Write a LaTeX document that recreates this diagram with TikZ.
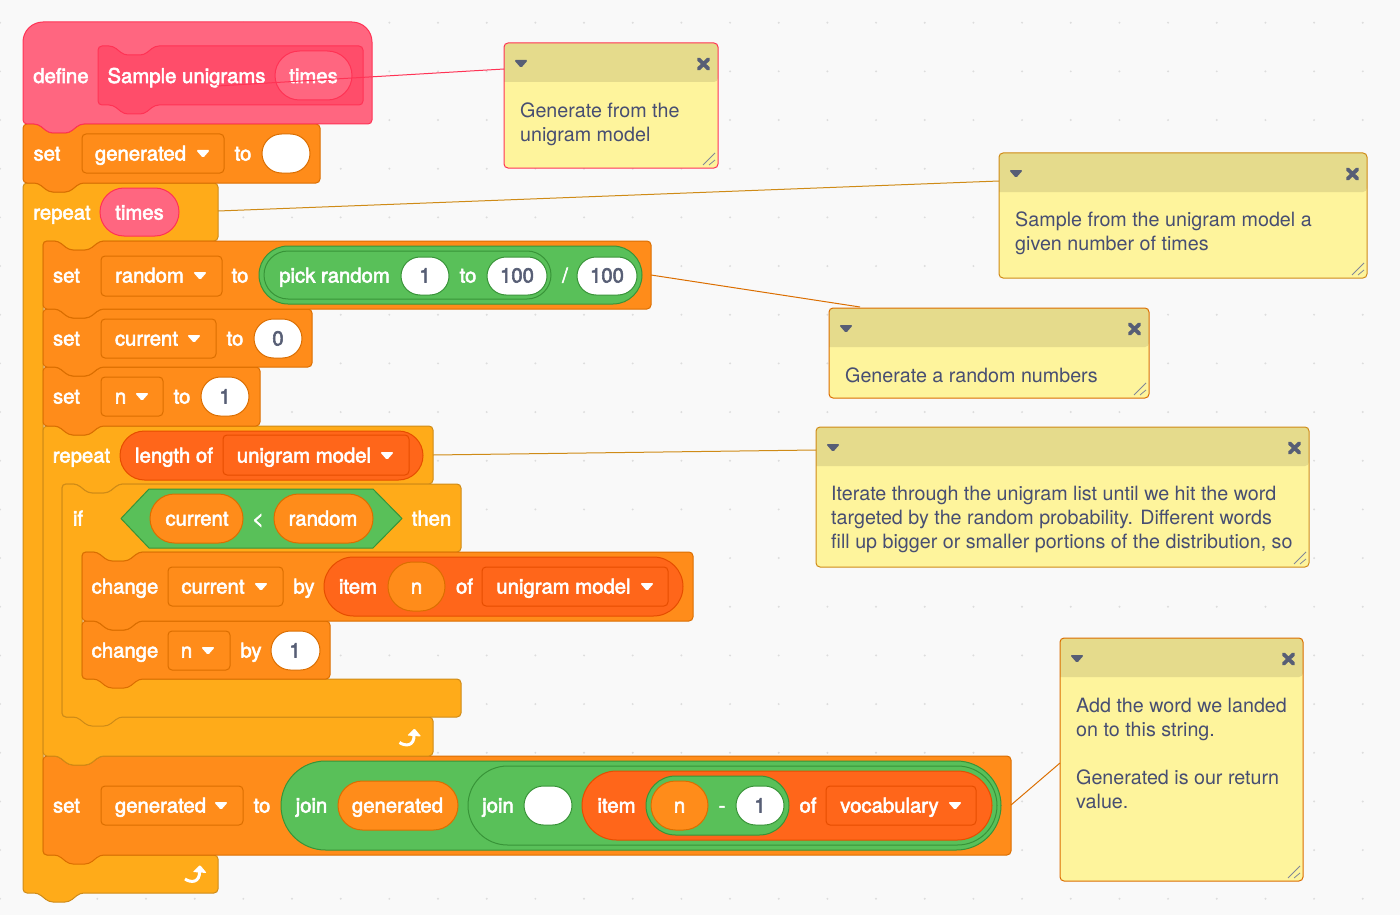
\documentclass[tikz,border=0pt]{standalone}
\usepackage{fontspec}
\setmainfont{TeX Gyre Heros}
\newfontfamily\blkfont{TeX Gyre Heros}
\newcommand{\whb}[1]{\special{pdf:code q 2 Tr 0.55 w 1 1 1 RG}#1\special{pdf:code Q}}
\newcommand{\inkb}[1]{\special{pdf:code q 2 Tr 0.55 w 0.341 0.369 0.459 RG}#1\special{pdf:code Q}}
\definecolor{ctrlF}{HTML}{FFAB19}\definecolor{ctrlS}{HTML}{CF8B17}
\definecolor{varF}{HTML}{FF8C1A}\definecolor{varS}{HTML}{DB6E00}
\definecolor{listF}{HTML}{FF661A}\definecolor{listS}{HTML}{E64D00}
\definecolor{opF}{HTML}{59C059}\definecolor{opS}{HTML}{389438}
\definecolor{myF}{HTML}{FF6680}\definecolor{myS}{HTML}{FF3355}\definecolor{myD}{HTML}{FF4D6A}
\definecolor{noteB}{HTML}{FEF49C}\definecolor{noteH}{HTML}{E5DB8C}\definecolor{ink}{HTML}{575E75}
\definecolor{noteT}{HTML}{474E72}
\definecolor{bgc}{HTML}{F9F9F9}\definecolor{dotc}{HTML}{DDDDDD}
\newcounter{lblc}
\tikzset{
 ctrl/.style={fill=ctrlF,draw=ctrlS,line width=1pt,line join=round},
 vari/.style={fill=varF,draw=varS,line width=1pt,line join=round},
 listb/.style={fill=listF,draw=listS,line width=1pt,line join=round},
 oper/.style={fill=opF,draw=opS,line width=1pt,line join=round},
 myb/.style={fill=myF,draw=myS,line width=1pt,line join=round},
 mybd/.style={fill=myD,draw=myS,line width=1pt,line join=round},
 whitep/.style={fill=white,draw=varS,line width=1pt},
 whiteo/.style={fill=white,draw=opS,line width=1pt},
 lbltext/.style={inner sep=0pt,anchor=base,text=white,font=\blkfont\fontsize{20.3}{24}\selectfont},
 numtext/.style={inner sep=0pt,anchor=base,text=ink,font=\blkfont\fontsize{20.3}{24}\selectfont},
 notetext/.style={inner sep=0pt,anchor=north west,align=left,text=noteT,font=\fontsize{19.7}{24}\selectfont},
 link/.style={line width=1pt},
}
\def\topn#1#2{-- (#1+15,#2) -- (#1+26,#2+9) -- (#1+46,#2+9) -- (#1+57,#2)}
\def\botn#1#2{-- (#1+57,#2) -- (#1+46,#2+9) -- (#1+26,#2+9) -- (#1+15,#2)}
\newcommand{\stk}[5]{\draw[#1,rounded corners=4pt] (#2,#3) \topn{#2}{#3} -- (#4,#3) -- (#4,#5) \botn{#2}{#5} -- (#2,#5) -- cycle;}
\newcommand{\cblk}[9]{\draw[#1,rounded corners=4pt] (#2,#3) \topn{#2}{#3} -- (#4,#3) -- (#4,#5) \botn{#6}{#5} -- (#6,#5) -- (#6,#7) -- (#8,#7) -- (#8,#9) \botn{#2}{#9} -- (#2,#9) -- cycle;}
\newcommand{\pil}[5]{\pgfmathsetmacro{\rr}{(#5-#4)/2}\draw[#1,rounded corners=\rr pt] (#2,#4) rectangle (#3,#5);}
\newcommand{\drp}[5]{\draw[#1,rounded corners=4pt] (#2,#4) rectangle (#3,#5);}
\newcommand{\tri}[2]{\fill[white,rounded corners=1.5pt] (#1-7,#2-3.5) -- (#1+7,#2-3.5) -- (#1,#2+4.5) -- cycle;}
\newcommand{\lbl}[4]{\stepcounter{lblc}\node[lbltext] (t\thelblc) at ({(#1+#2)/2},#3+7) {\whb{#4}};}
\newcommand{\num}[4]{\stepcounter{lblc}\node[numtext] (t\thelblc) at ({(#1+#2)/2},#3+7) {\inkb{#4}};}
\newcommand{\loopicon}[2]{\begin{scope}[shift={(#1,#2)}]
 \draw[white,line width=3pt] (0,14) .. controls (6,18) and (15,18) .. (14.5,6);
 \fill[white,rounded corners=1pt] (7.7,7) -- (15,0) -- (21.7,8) -- cycle;
 \end{scope}}
\newcommand{\note}[8]{%
 \fill[noteB,rounded corners=4pt] (#2,#3) rectangle (#4,#5);
 \fill[noteH,rounded corners=4pt] (#2,#6) -- (#2,#3) -- (#4,#3) -- (#4,#6) [sharp corners] -- cycle;
 \node[draw=#7,line width=1pt,rounded corners=4pt,inner sep=0pt,minimum width={(#4-#2)*1pt},minimum height={(#5-#3)*1pt}] (#1) at ({(#2+#4)/2},{(#3+#5)/2}) {};
 \fill[ink,rounded corners=1.5pt] ({#2+17-7},{(#3+#6)/2-2.5}) -- ({#2+17+7},{(#3+#6)/2-2.5}) -- ({#2+17},{(#3+#6)/2+5.5}) -- cycle;
 \draw[ink,line width=3.8pt,line cap=round] ({#4-14.5-4.8},{(#3+#6)/2-3.2}) -- ({#4-14.5+4.8},{(#3+#6)/2+6.2}) ({#4-14.5-4.8},{(#3+#6)/2+6.2}) -- ({#4-14.5+4.8},{(#3+#6)/2-3.2});
 \draw[ink!75,line width=0.8pt] (#4-15,#5-3) -- (#4-3,#5-15) (#4-9,#5-3) -- (#4-3,#5-8);
}
\begin{document}
\begin{tikzpicture}[x=1pt,y=-1pt]
\useasboundingbox (0,0) rectangle (1400,915);
\fill[bgc] (0,0) rectangle (1400,915);
\foreach \i in {0,...,28}{\foreach \j in {0,...,18}{
  \fill[dotc] ({\i*48.67},{22.7+\j*48.67}) circle (1.1);}}

% outer repeat
\cblk{ctrl}{23}{183}{218}{241}{43}{855}{218}{893}
\lbl{33}{91}{212.5}{repeat}
\pil{fill=myF,draw=myS,line width=1pt}{100}{179}{188}{236}
\lbl{115}{164}{212.5}{times}
\loopicon{185}{865}

% set generated (big)
\stk{vari}{43}{756}{1011}{855}
\lbl{53}{80}{805.5}{set}
\drp{vari}{101}{243}{786}{825}
\lbl{115}{206}{805.5}{generated}\tri{221}{805.5}
\lbl{253}{271}{805.5}{to}
\pil{oper}{281}{1001}{761}{850}
\lbl{295}{328}{805.5}{join}
\pil{vari}{338}{458}{781}{830}
\lbl{352}{443}{805.5}{generated}
\pil{oper}{468}{997}{766}{845}
\lbl{482}{514}{805.5}{join}
\pil{whiteo}{524}{572}{786}{825}
\pil{listb}{582}{992}{771}{840}
\lbl{597}{636}{805.5}{item}
\pil{oper}{646}{789}{776}{835}
\pil{vari}{651}{708}{781}{830}
\lbl{673}{686}{805.5}{n}
\lbl{718}{726}{805.5}{-}
\pil{whiteo}{736}{784}{786}{825}
\num{755}{765}{805.5}{1}
\lbl{799}{817}{805.5}{of}
\drp{listb}{826}{976}{786}{825}
\lbl{840}{939}{805.5}{vocabulary}\tri{955}{805.5}

% inner repeat
\cblk{ctrl}{43}{426}{433}{484}{62}{717}{433}{756}
\lbl{53}{110}{455.5}{repeat}
\pil{listb}{120}{423}{431}{480}
\lbl{134}{214}{455.5}{length of}
\drp{listb}{223}{409}{435}{475}
\lbl{237}{371}{455.5}{unigram model}\tri{387}{455.5}
\loopicon{399.5}{728.5}

% if
\cblk{ctrl}{62}{484}{461}{552}{82}{679}{461}{717}
\lbl{72}{84}{518.5}{if}
\draw[oper] (121,518.5) -- (149,489) -- (373,489) -- (402,518.5) -- (373,548) -- (149,548) -- cycle;
\pil{vari}{150}{243}{494}{543}
\lbl{165}{229}{518.5}{current}
\lbl{252}{264}{518.5}{<}
\pil{vari}{274}{373}{494}{543}
\lbl{288}{358}{518.5}{random}
\lbl{412}{451}{518.5}{then}

% change n
\stk{vari}{82}{621}{330}{679}
\lbl{92}{158}{650.5}{change}
\drp{vari}{168}{230}{631}{670}
\lbl{181}{192}{650.5}{n}\tri{208}{650.5}
\lbl{240}{262}{650.5}{by}
\pil{whitep}{271}{320}{631}{670}
\num{290}{300}{650.5}{1}

% change current
\stk{vari}{82}{552}{693}{621}
\lbl{92}{158}{586.5}{change}
\drp{vari}{168}{283}{567}{606}
\lbl{181}{245}{586.5}{current}\tri{261}{586.5}
\lbl{293}{315}{586.5}{by}
\pil{listb}{324}{683}{557}{616}
\lbl{339}{377}{586.5}{item}
\pil{vari}{388}{445}{562}{611}
\lbl{410}{423}{586.5}{n}
\lbl{456}{473}{586.5}{of}
\drp{listb}{482}{668}{567}{606}
\lbl{496}{631}{586.5}{unigram model}\tri{647}{586.5}

% set n
\stk{vari}{43}{367}{260}{426}
\lbl{53}{80}{396.5}{set}
\drp{vari}{101}{163}{377}{416}
\lbl{115}{126}{396.5}{n}\tri{142}{396.5}
\lbl{173}{191}{396.5}{to}
\pil{whitep}{201}{249}{377}{416}
\num{220}{230}{396.5}{1}

% set current
\stk{vari}{43}{309}{312}{367}
\lbl{53}{80}{338.5}{set}
\drp{vari}{101}{216}{319}{358}
\lbl{115}{178}{338.5}{current}\tri{194}{338.5}
\lbl{226}{244}{338.5}{to}
\pil{whitep}{254}{302}{319}{358}
\num{273}{283}{338.5}{0}

% set random
\stk{vari}{43}{241}{651}{309}
\lbl{53}{80}{275.5}{set}
\drp{vari}{101}{222}{256}{296}
\lbl{115}{184}{275.5}{random}\tri{200}{275.5}
\lbl{231}{249}{275.5}{to}
\pil{oper}{259}{642}{246}{304}
\pil{oper}{264}{551}{251}{299}
\lbl{278}{391}{275.5}{pick random}
\pil{whiteo}{401}{449}{257}{295}
\num{420}{430}{275.5}{1}
\lbl{459}{477}{275.5}{to}
\pil{whiteo}{487}{547}{257}{295}
\num{500}{534}{275.5}{100}
\lbl{560}{570}{275.5}{/}
\pil{whiteo}{577}{637}{257}{295}
\num{590}{624}{275.5}{100}

% set generated (top)
\stk{vari}{23}{124}{320}{183}
\lbl{33}{61}{153.5}{set}
\drp{vari}{82}{224}{134}{173}
\lbl{95}{186}{153.5}{generated}\tri{203}{153.5}
\lbl{234}{252}{153.5}{to}
\pil{whitep}{262}{310}{134}{173}

% define hat
\draw[myb,rounded corners=4pt] (23,124) [rounded corners=20pt] -- (23,22) -- (372,22) [rounded corners=4pt] -- (372,124) \botn{23}{124} -- cycle;
\lbl{33}{89}{76}{define}
\draw[mybd,rounded corners=4pt] (98,46) \topn{98}{46} -- (363,46) -- (363,105) \botn{98}{105} -- (98,105) -- cycle;
\lbl{108}{265}{76}{Sample unigrams}
\pil{myb}{275}{352}{51}{100}
\lbl{289}{338}{76}{times}

% notes
\note{noteA}{504}{43}{718}{168}{82}{myS}{}
\node[notetext] (noteAt) at (520,103) {Generate from the\\unigram model};
\note{noteB}{999}{153}{1367}{278}{192}{ctrlS}{}
\node[notetext] (noteBt) at (1015,212) {Sample from the unigram model a\\given number of times};
\note{noteC}{829}{308}{1149}{398}{347}{varS}{}
\node[notetext] (noteCt) at (845,368) {Generate a random numbers};
\note{noteD}{816}{427}{1309}{567}{466}{ctrlS}{}
\node[notetext] (noteDt) at (831,486) {Iterate through the unigram list until we hit the word\\targeted by the random probability. Different words\\fill up bigger or smaller portions of the distribution, so};
\note{noteE}{1060}{638}{1303}{881}{677}{varS}{}
\node[notetext] (noteEt) at (1076,698) {Add the word we landed\\on to this string.\\[24pt]Generated is our return\\value.};

% connectors
\coordinate (c1s) at (217,86); \coordinate (c1e) at (504,69);
\coordinate (c2s) at (218,211); \coordinate (c2e) at (999,181);
\coordinate (c3s) at (651,275); \coordinate (c3e) at (860,307);
\coordinate (c4s) at (433,455); \coordinate (c4e) at (816,450);
\coordinate (c5s) at (1011,805); \coordinate (c5e) at (1060,763);
\draw[link,draw=myS] (c1s) -- (c1e);
\draw[link,draw=ctrlS] (c2s) -- (c2e);
\draw[link,draw=varS] (c3s) -- (c3e);
\draw[link,draw=ctrlS] (c4s) -- (c4e);
\draw[link,draw=varS] (c5s) -- (c5e);
\end{tikzpicture}
\end{document}
